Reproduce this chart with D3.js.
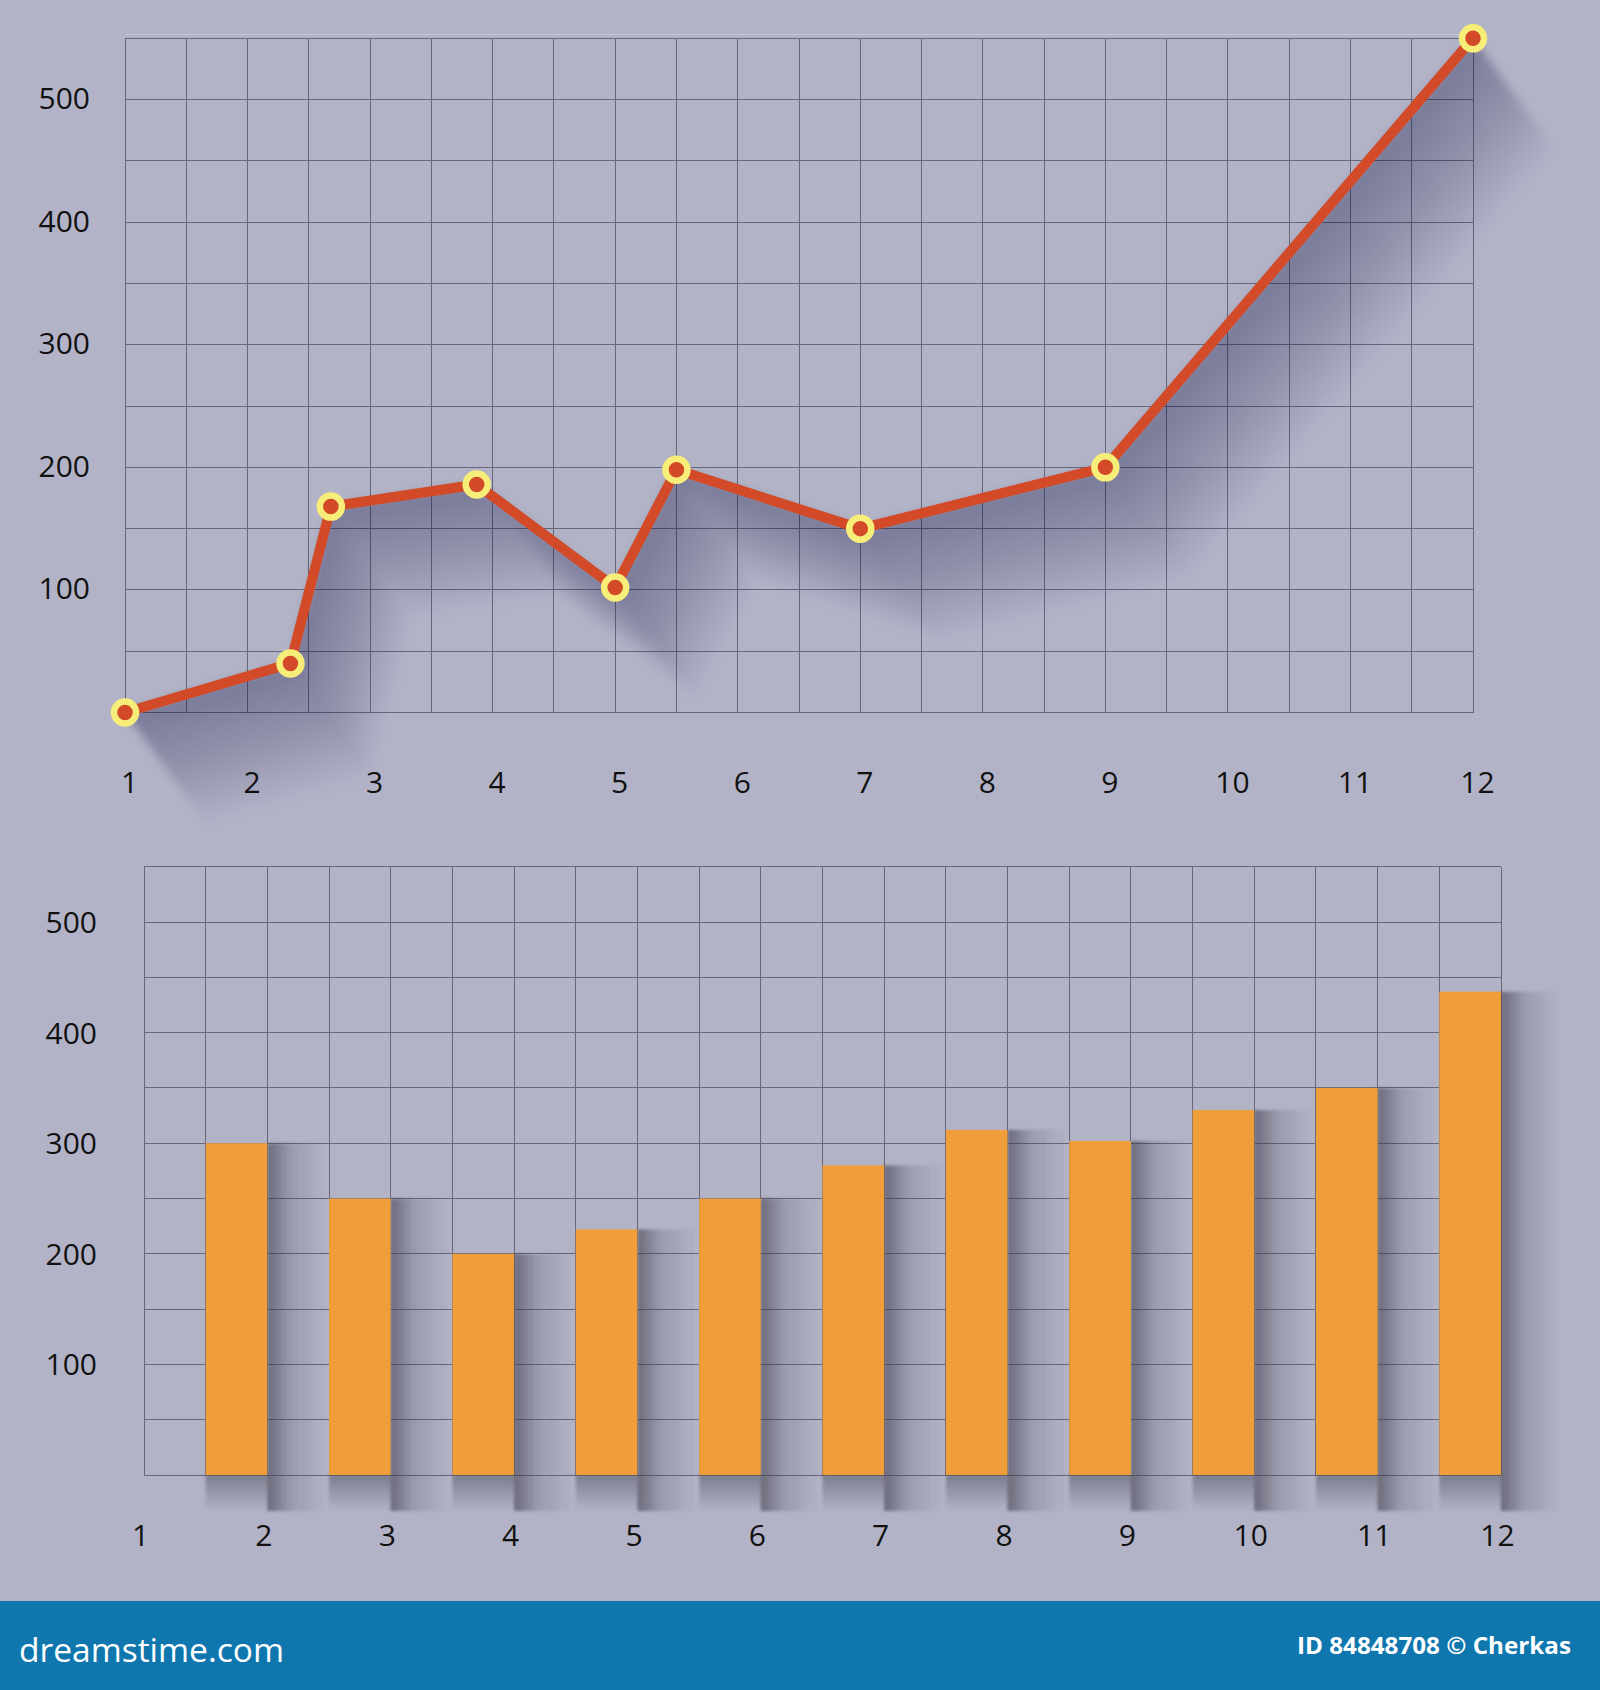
<!DOCTYPE html>
<html>
<head>
<meta charset="utf-8">
<script src="https://cdn.jsdelivr.net/npm/d3@7"></script>
<style>
  html, body { margin: 0; padding: 0; background: #b3b3c7; }
  svg { display: block; }
</style>
</head>
<body>
<svg id="chart" width="1600" height="1690"></svg>
<script>
// ---------- data ----------
const xTicks = [1, 2, 3, 4, 5, 6, 7, 8, 9, 10, 11, 12];
const yTicks = [100, 200, 300, 400, 500];
const lineX = [1, 2.35, 2.68, 3.87, 5, 5.5, 7, 9, 12];
const lineValues = [0, 40, 168, 186, 102, 198, 150, 200, 550];
const barCategories = [2, 3, 4, 5, 6, 7, 8, 9, 10, 11, 12];
const barValues = [300, 250, 200, 222, 250, 280, 312, 302, 330, 350, 437];
const footerLeft = "dreamstime.com";
const footerRight = "ID 84848708 © Cherkas";

// ---------- style ----------
const BG = "#b3b3c7";
const GRID = "#676779";
const LINE = "#d24a27";
const RING = "#f6ee78";
const BAR = "#f09e3a";
const FOOT = "#0f77ae";
const SH = "#3a3a48";
const FONT = "'Open Sans', 'Noto Sans', sans-serif";

const svg = d3.select("#chart");
svg.append("rect").attr("width", 1600).attr("height", 1690).attr("fill", BG);

const defs = svg.append("defs");
defs.append("filter").attr("id", "blur").attr("x", "-20%").attr("y", "-20%").attr("width", "140%").attr("height", "140%")
  .append("feGaussianBlur").attr("stdDeviation", 5);
defs.append("filter").attr("id", "blur2").attr("x", "-20%").attr("y", "-20%").attr("width", "140%").attr("height", "140%")
  .append("feGaussianBlur").attr("stdDeviation", 1.5);
const gr = defs.append("linearGradient").attr("id", "shR").attr("x1", 0).attr("y1", 0).attr("x2", 1).attr("y2", 0);
gr.append("stop").attr("offset", 0).attr("stop-color", SH).attr("stop-opacity", 0.6);
gr.append("stop").attr("offset", 0.4).attr("stop-color", SH).attr("stop-opacity", 0.2);
gr.append("stop").attr("offset", 1).attr("stop-color", SH).attr("stop-opacity", 0);
const gb = defs.append("linearGradient").attr("id", "shB").attr("x1", 0).attr("y1", 0).attr("x2", 0).attr("y2", 1);
gb.append("stop").attr("offset", 0).attr("stop-color", SH).attr("stop-opacity", 0.45);
gb.append("stop").attr("offset", 1).attr("stop-color", SH).attr("stop-opacity", 0);

// ---------- top line chart ----------
const xL = d3.scaleLinear().domain([1, 12]).range([125, 1473]);
const yL = d3.scaleLinear().domain([0, 550]).range([712.5, 38.3]);

function drawGrid(g, x, y, xDomain) {
  const vx = d3.range(xDomain[0], xDomain[1] + 0.001, 0.5);
  const hy = d3.range(0, 550 + 0.001, 50);
  g.selectAll("line.v").data(vx).join("line").attr("class", "v")
    .attr("x1", d => x(d)).attr("x2", d => x(d))
    .attr("y1", y(0)).attr("y2", y(550))
    .attr("stroke", GRID).attr("stroke-width", 1).attr("shape-rendering", "crispEdges");
  g.selectAll("line.h").data(hy).join("line").attr("class", "h")
    .attr("x1", x(xDomain[0])).attr("x2", x(xDomain[1]))
    .attr("y1", d => y(d)).attr("y2", d => y(d))
    .attr("stroke", GRID).attr("stroke-width", 1).attr("shape-rendering", "crispEdges");
}

const gTop = svg.append("g");
drawGrid(gTop.append("g"), xL, yL, [1, 12]);
gTop.append("line").attr("x1", xL(1)).attr("x2", xL(12)).attr("y1", yL(550) - 4).attr("y2", yL(550) - 4)
  .attr("stroke", "#c4c4d6").attr("stroke-width", 1).attr("shape-rendering", "crispEdges");

// long shadow under the line
const pts = lineX.map((d, i) => [xL(d), yL(lineValues[i])]);
const shadowG = gTop.append("g").attr("filter", "url(#blur)");
const K = 18, VX = 82, VY = 112;
for (let k = 1; k <= K; k++) {
  const f = k / K;
  const shifted = pts.map(p => [p[0] + VX * f, p[1] + VY * f]).reverse();
  shadowG.append("path")
    .attr("d", d3.line()(pts.concat(shifted)) + "Z")
    .attr("fill", SH).attr("fill-opacity", 0.024);
}

gTop.append("path")
  .datum(lineValues)
  .attr("d", d3.line().x((d, i) => xL(lineX[i])).y(d => yL(d)))
  .attr("fill", "none").attr("stroke", LINE).attr("stroke-width", 10)
  .attr("stroke-linejoin", "round");
gTop.selectAll("circle").data(lineValues).join("circle")
  .attr("cx", (d, i) => xL(lineX[i])).attr("cy", d => yL(d))
  .attr("r", 11).attr("fill", LINE).attr("stroke", RING).attr("stroke-width", 6.5);

const axL = gTop.append("g").attr("transform", "translate(90,0)")
  .call(d3.axisLeft(yL).tickValues(yTicks).tickSize(0).tickPadding(0));
axL.select(".domain").remove();
axL.selectAll("text").attr("font-family", FONT).attr("font-size", 30).attr("fill", "#111").attr("dy", "0.3em");

const axLB = gTop.append("g").attr("transform", "translate(4,782)")
  .call(d3.axisBottom(xL).tickValues(xTicks).tickSize(0).tickPadding(0).tickFormat(d3.format("d")));
axLB.select(".domain").remove();
axLB.selectAll("text").attr("font-family", FONT).attr("font-size", 30).attr("fill", "#111").attr("dy", "0.35em");

// ---------- bottom bar chart ----------
const xB = d3.scaleLinear().domain([1, 12]).range([144, 1501]);
const yB = d3.scaleLinear().domain([0, 550]).range([1475, 866.7]);

const gBot = svg.append("g");
drawGrid(gBot.append("g"), xB, yB, [1, 12]);

const colW = xB(1.5) - xB(1);
const shG = gBot.append("g").attr("filter", "url(#blur2)");
// right-side shadows
shG.selectAll("rect.shr").data(barValues).join("rect").attr("class", "shr")
  .attr("x", (d, i) => xB(barCategories[i]))
  .attr("y", d => yB(d))
  .attr("width", colW * 0.95)
  .attr("height", d => yB(0) - yB(d) + 36)
  .attr("fill", "url(#shR)");
// below shadows
shG.selectAll("rect.shb").data(barValues).join("rect").attr("class", "shb")
  .attr("x", (d, i) => xB(barCategories[i] - 0.5))
  .attr("y", yB(0))
  .attr("width", colW)
  .attr("height", 36)
  .attr("fill", "url(#shB)");
// bars
gBot.selectAll("rect.bar").data(barValues).join("rect").attr("class", "bar")
  .attr("x", (d, i) => xB(barCategories[i] - 0.5))
  .attr("y", d => yB(d))
  .attr("width", colW)
  .attr("height", d => yB(0) - yB(d))
  .attr("fill", BAR);

const axB = gBot.append("g").attr("transform", "translate(97,0)")
  .call(d3.axisLeft(yB).tickValues(yTicks).tickSize(0).tickPadding(0));
axB.select(".domain").remove();
axB.selectAll("text").attr("font-family", FONT).attr("font-size", 30).attr("fill", "#111").attr("dy", "0.35em");

const axBB = gBot.append("g").attr("transform", "translate(-4,1535)")
  .call(d3.axisBottom(xB).tickValues(xTicks).tickSize(0).tickPadding(0).tickFormat(d3.format("d")));
axBB.select(".domain").remove();
axBB.selectAll("text").attr("font-family", FONT).attr("font-size", 30).attr("fill", "#111").attr("dy", "0.35em");

// ---------- footer ----------
svg.append("rect").attr("x", 0).attr("y", 1601).attr("width", 1600).attr("height", 89).attr("fill", FOOT);
svg.append("text").attr("x", 19).attr("y", 1662).text(footerLeft)
  .attr("font-family", FONT).attr("font-size", 32).attr("fill", "#fff")
  .attr("textLength", 265).attr("lengthAdjust", "spacingAndGlyphs");
svg.append("text").attr("x", 1571).attr("y", 1654).attr("text-anchor", "end").text(footerRight)
  .attr("font-family", FONT).attr("font-weight", 700).attr("font-size", 24).attr("fill", "#fff")
  .attr("textLength", 274).attr("lengthAdjust", "spacingAndGlyphs");
</script>
</body>
</html>
